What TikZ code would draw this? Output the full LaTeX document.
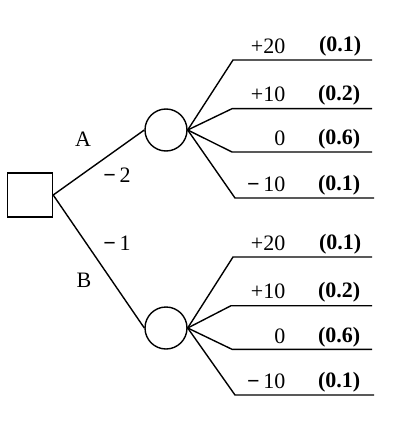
\documentclass[tikz,border=0pt]{standalone}
\usepackage{fontspec}
\setmainfont{Liberation Serif}
\newcommand{\mneg}{{\bfseries −}\,}
\begin{document}
\begin{tikzpicture}[x=1pt,y=-1pt,
  line width=1.4pt,
  lbl/.style={inner sep=0pt,font=\fontsize{22}{24}\selectfont},
  val/.style={lbl,anchor=base east},
  prob/.style={lbl,anchor=base east,font=\fontsize{22}{24}\selectfont\bfseries},
  decision/.style={draw,rectangle,minimum width=45pt,minimum height=44pt,inner sep=0pt,line width=1.4pt},
  chance/.style={draw,circle,minimum size=42pt,inner sep=0pt,line width=1.4pt}]
\useasboundingbox (0,0) rectangle (410,425);
\fill[white] (0,0) rectangle (410,425);

\node[decision] (d) at (30,195) {};
\node[chance] (ca) at (166,130) {};
\node[chance] (cb) at (166,328) {};

\draw (d.east) -- (ca.west);
\draw (d.east) -- (cb.west);

\node[lbl,anchor=base] (la) at (83,146.7) {A};
\node[lbl,anchor=base] (lb) at (84,287.3) {B};
\node[lbl,anchor=base] (ma) at (117,182.7) {\mneg 2};
\node[lbl,anchor=base] (mb) at (117,250) {\mneg 1};

% top group
\coordinate (a1) at (233,60);    \coordinate (a1e) at (372,60);
\coordinate (a2) at (232,108.7); \coordinate (a2e) at (372,108.7);
\coordinate (a3) at (232,152);   \coordinate (a3e) at (372,152);
\coordinate (a4) at (235,198);   \coordinate (a4e) at (374,198);
\foreach \i in {1,2,3,4} {\draw (ca.east) -- (a\i) -- (a\i e);}

% bottom group
\coordinate (b1) at (233,257);   \coordinate (b1e) at (372,257);
\coordinate (b2) at (231,305.7); \coordinate (b2e) at (372,305.7);
\coordinate (b3) at (232,349.3); \coordinate (b3e) at (372,349.3);
\coordinate (b4) at (235,395);   \coordinate (b4e) at (374,395);
\foreach \i in {1,2,3,4} {\draw (cb.east) -- (b\i) -- (b\i e);}

% values top
\node[val] (va1) at (286,53.3) {+20};
\node[val] (va2) at (286,101.7) {+10};
\node[val] (va3) at (286,145.7) {0};
\node[val] (va4) at (286,191.7) {\mneg 10};
\node[prob] (pa1) at (362,52) {(0.1)};
\node[prob] (pa2) at (361,100.5) {(0.2)};
\node[prob] (pa3) at (361,144.5) {(0.6)};
\node[prob] (pa4) at (361,190.5) {(0.1)};

% values bottom
\node[val] (vb1) at (286,250.7) {+20};
\node[val] (vb2) at (286,298.3) {+10};
\node[val] (vb3) at (286,343.3) {0};
\node[val] (vb4) at (286,388.3) {\mneg 10};
\node[prob] (pb1) at (362,249.5) {(0.1)};
\node[prob] (pb2) at (361,297) {(0.2)};
\node[prob] (pb3) at (361,342) {(0.6)};
\node[prob] (pb4) at (361,387) {(0.1)};
\end{tikzpicture}
\end{document}
